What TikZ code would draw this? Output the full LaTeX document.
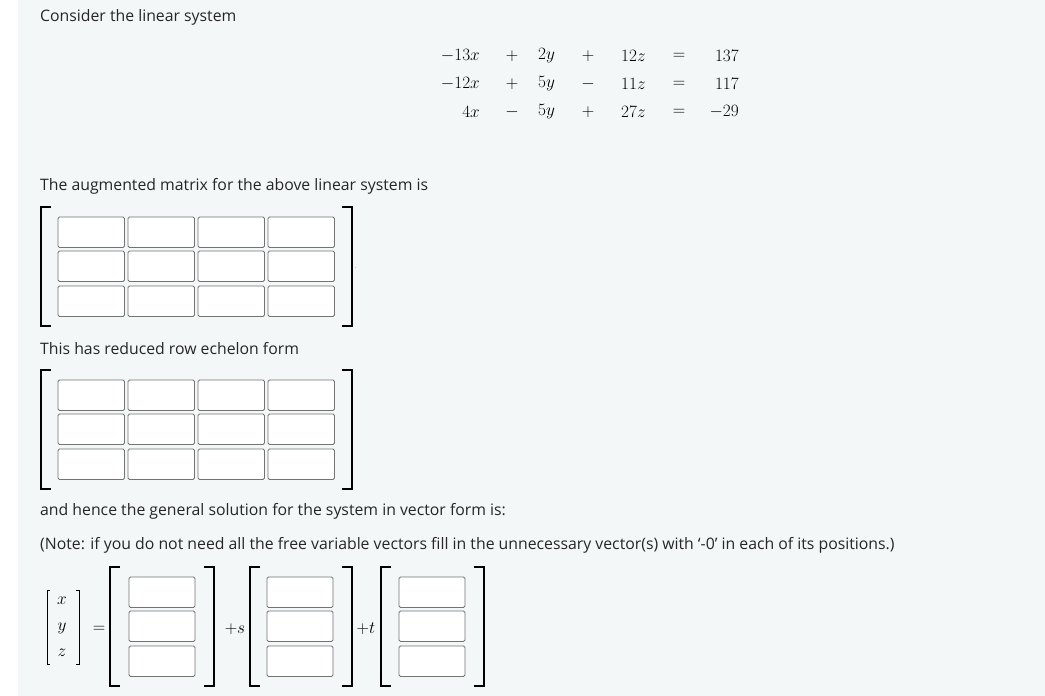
\documentclass[tikz,border=0pt]{standalone}
\usepackage{fontspec}
\setsansfont{Open Sans}
\begin{document}
\begin{tikzpicture}[x=1pt,y=-1pt,
  txt/.style={anchor=west,inner sep=0pt,font=\sffamily\fontsize{15.8}{18}\selectfont,text=black!85},
  cell/.style={draw=black!55,line width=0.9pt,fill=white,rounded corners=1.5pt},
  brk/.style={line width=1.6pt},
  eq/.style={inner sep=0pt,font=\fontsize{17}{20}\selectfont}]
\useasboundingbox (0,0) rectangle (1045,696);
\fill[fill={rgb,255:red,243;green,247;blue,247}] (18,0) rectangle (1045,696);
\node[txt] (t1) at (40,17) {Consider the linear system};
\node[txt] (t2) at (40,186) {The augmented matrix for the above linear system is};
\node[txt] (t3) at (40,349) {This has reduced row echelon form};
\node[txt] (t4) at (40,511) {and hence the general solution for the system in vector form is:};
\node[txt] (t5) at (40,545) {(Note: if you do not need all the free variable vectors fill in the unnecessary vector(s) with `-0' in each of its positions.)};
% equations
\foreach \y/\a/\o/\b/\p/\c/\r [count=\i] in {56/-13x/+/2y/+/12z/137, 84/-12x/+/5y/-/11z/117, 112/4x/-/5y/+/27z/-29}{
  \node[eq,anchor=east] (a\i) at (480,\y) {$\a$};
  \node[eq] (o\i) at (512,\y) {$\o$};
  \node[eq,anchor=west] (b\i) at (538,\y) {$\b$};
  \node[eq] (p\i) at (588,\y) {$\p$};
  \node[eq,anchor=west] (c\i) at (621,\y) {$\c$};
  \node[eq] (e\i) at (679,\y) {$=$};
  \node[eq,anchor=east] (r\i) at (739,\y) {$\r$};
}
% matrices
\foreach \dy/\m in {0/A,163/B}{
  \draw[brk] (51,207+\dy) -- (41,207+\dy) -- (41,326+\dy) -- (51,326+\dy);
  \draw[brk] (342,207+\dy) -- (352,207+\dy) -- (352,326+\dy) -- (342,326+\dy);
  \foreach \x [count=\j] in {58,128,198,268}
    \foreach \yy [count=\k] in {217,251,286}
      \node[inner sep=0pt] (\m\k\j) at (\x+33.5,\yy+15+\dy) {};
  \foreach \x in {58,128,198,268}
    \foreach \yy in {217,251,286}
      \draw[cell] (\x,\yy+\dy) rectangle (\x+66.5,\yy+30.5+\dy);
}
\node[inner sep=0pt,font=\tiny] (dot) at (356,268) {.};
% vector
\draw[line width=0.8pt] (50,590) -- (47,590) -- (47,664) -- (50,664);
\draw[line width=0.8pt] (76,590) -- (79,590) -- (79,664) -- (76,664);
\node[eq] (vx) at (62,601) {$x$};
\node[eq] (vy) at (62,628) {$y$};
\node[eq] (vz) at (62,653) {$z$};
\node[eq] (veq) at (99,629) {$=$};
\node[eq] (ps) at (235,629) {$+s$};
\node[eq] (pt) at (366,629) {$+t$};
\foreach \l/\cx/\r [count=\v] in {110/129/214, 250/267/352, 381/399/484}{
  \draw[brk] (\l+10,567) -- (\l,567) -- (\l,686) -- (\l+10,686);
  \draw[brk] (\r-10,567) -- (\r,567) -- (\r,686) -- (\r-10,686);
  \foreach \yy [count=\k] in {577,611,646}{
    \node[inner sep=0pt] (v\v\k) at (\cx+33,\yy+15) {};
    \draw[cell] (\cx,\yy) rectangle (\cx+66,\yy+30.5);
  }
}
\end{tikzpicture}
\end{document}
